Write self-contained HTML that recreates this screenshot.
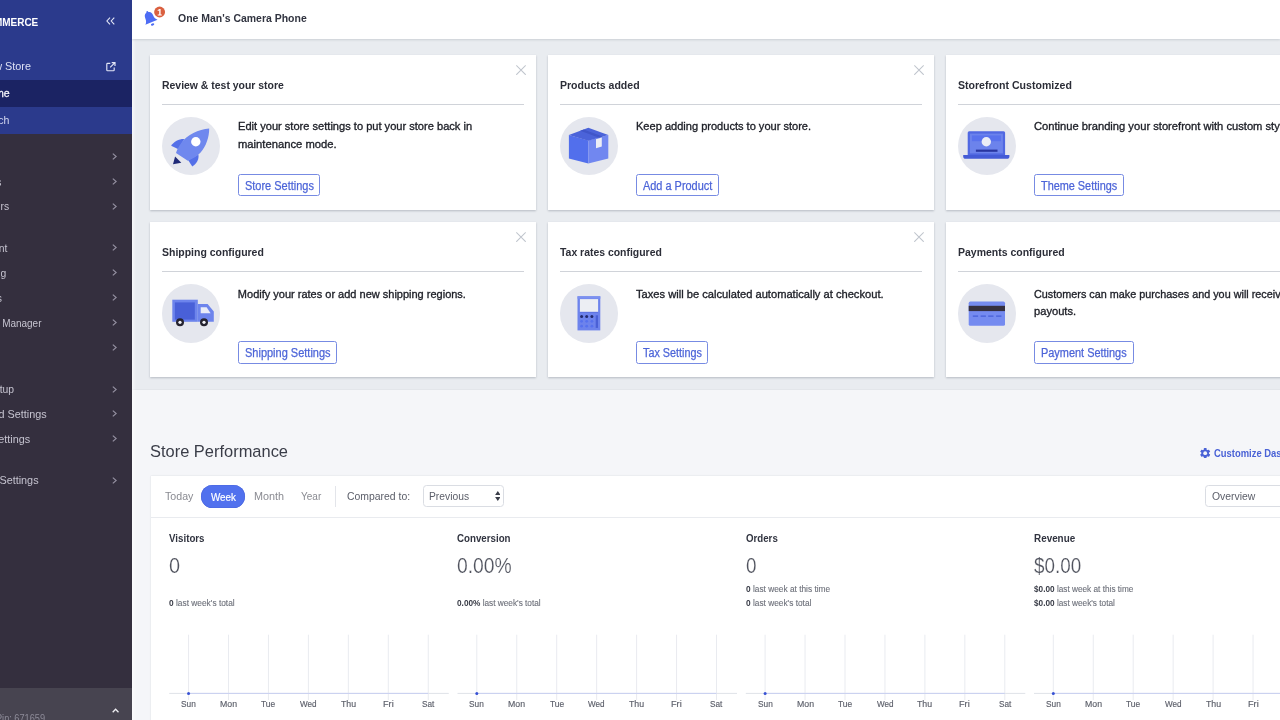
<!DOCTYPE html>
<html>
<head>
<meta charset="utf-8">
<title>Dashboard</title>
<style>
*{box-sizing:border-box;margin:0;padding:0}
html,body{width:1280px;height:720px;overflow:hidden}
body{font-family:"Liberation Sans",sans-serif;background:#e9ecf0;position:relative;color:#313440}
.abs{position:absolute}
.t{position:absolute;white-space:nowrap;line-height:1.2}
.t b{color:#3a3d48;-webkit-text-stroke:0}
#side{position:absolute;left:0;top:0;width:132.400px;height:720px;background:#342f3e;overflow:hidden}
#side .top{position:absolute;left:0;top:0;width:100%;height:134px;background:#2b3a8c}
#side .home{position:absolute;left:0;top:79.800px;width:100%;height:27.200px;background:#1b2363}
#side .foot{position:absolute;left:0;top:688.400px;width:100%;height:32px;background:#474450}
#hdr{position:absolute;left:132.200px;top:0;width:1148px;height:39px;background:#fff;box-shadow:0 1px 2px rgba(50,60,80,.16)}
.card{position:absolute;width:386px;height:155.300px;background:#fff;box-shadow:0 1px 2px rgba(40,50,70,.26)}
.card .hr{position:absolute;left:11.600px;top:48.900px;width:362.600px;height:1.500px;background:#d0d3d9}
.card .ic{position:absolute;left:11.800px;top:62.400px;width:58.400px;height:58.400px;border-radius:50%;background:#e5e7ee}
.card .ic svg{position:absolute;left:0;top:0}
.card .btn{position:absolute;left:88.100px;top:119.600px;height:22.200px;border:1.200px solid #778be3;border-radius:2.500px;background:#fff}
.card .x{position:absolute;left:366.200px;top:10.200px;width:10px;height:10.200px}
#lower{position:absolute;left:132.200px;top:388.900px;width:1148px;height:331px;background:#f5f6f9;border-top:1px solid #e3e6ea}
#panel{position:absolute;left:150.500px;top:476.400px;width:1140px;height:250px;background:#fff;box-shadow:0 0 1.500px rgba(40,50,70,.16)}
#panel .bar{position:absolute;left:0;top:0;width:100%;height:41.600px;border-bottom:1px solid #e9ebef}
.pill{position:absolute;left:200.900px;top:485.200px;width:44.200px;height:23.300px;border-radius:12px;background:#5171ee;box-shadow:inset 0 0 0 .6px #4a66de}
.sel{position:absolute;top:485.300px;height:21.600px;border:1px solid #dadde3;border-radius:3.500px;background:#fff}
</style>
</head>
<body>
<div id="lower"></div>
<div class="abs" style="left:132.400px;top:39px;width:4px;height:681px;background:linear-gradient(to right,rgba(255,255,255,.6),rgba(255,255,255,0))"></div>
<div id="side"><div class="top"></div><div class="home"></div><div class="foot"></div>
<svg class="abs" style="left:105.500px;top:17px" width="9.200" height="8" viewBox="0 0 9.200 8"><path d="M4 .6 .9 4 4 7.400M8.300 .6 5.200 4 8.300 7.400" fill="none" stroke="#e3e6f6" stroke-width="1.100"/></svg>
<svg class="abs" style="left:106px;top:62px" width="9.600" height="9.600" viewBox="0 0 9.600 9.600"><path d="M4.300 1.400H1.600a.8 .8 0 0 0-.8 .8V8a.8 .8 0 0 0 .8 .8H7.400a.8 .8 0 0 0 .8-.8V5.400" fill="none" stroke="#e3e6f6" stroke-width="1.150"/><path d="M5.700 .6H9V3.900M8.900 .7 4.200 5.400" fill="none" stroke="#e3e6f6" stroke-width="1.150"/></svg>
<svg class="abs" style="left:112.400px;top:153px" width="5" height="7" viewBox="0 0 5 7"><path d="M.8 .6 4.200 3.500 .8 6.400" fill="none" stroke="#9591a2" stroke-width="1.200"/></svg><svg class="abs" style="left:112.400px;top:178.1px" width="5" height="7" viewBox="0 0 5 7"><path d="M.8 .6 4.200 3.500 .8 6.400" fill="none" stroke="#9591a2" stroke-width="1.200"/></svg><svg class="abs" style="left:112.400px;top:202.9px" width="5" height="7" viewBox="0 0 5 7"><path d="M.8 .6 4.200 3.500 .8 6.400" fill="none" stroke="#9591a2" stroke-width="1.200"/></svg><svg class="abs" style="left:112.400px;top:244px" width="5" height="7" viewBox="0 0 5 7"><path d="M.8 .6 4.200 3.500 .8 6.400" fill="none" stroke="#9591a2" stroke-width="1.200"/></svg><svg class="abs" style="left:112.400px;top:269.1px" width="5" height="7" viewBox="0 0 5 7"><path d="M.8 .6 4.200 3.500 .8 6.400" fill="none" stroke="#9591a2" stroke-width="1.200"/></svg><svg class="abs" style="left:112.400px;top:294.1px" width="5" height="7" viewBox="0 0 5 7"><path d="M.8 .6 4.200 3.500 .8 6.400" fill="none" stroke="#9591a2" stroke-width="1.200"/></svg><svg class="abs" style="left:112.400px;top:319px" width="5" height="7" viewBox="0 0 5 7"><path d="M.8 .6 4.200 3.500 .8 6.400" fill="none" stroke="#9591a2" stroke-width="1.200"/></svg><svg class="abs" style="left:112.400px;top:343.9px" width="5" height="7" viewBox="0 0 5 7"><path d="M.8 .6 4.200 3.500 .8 6.400" fill="none" stroke="#9591a2" stroke-width="1.200"/></svg><svg class="abs" style="left:112.400px;top:385.5px" width="5" height="7" viewBox="0 0 5 7"><path d="M.8 .6 4.200 3.500 .8 6.400" fill="none" stroke="#9591a2" stroke-width="1.200"/></svg><svg class="abs" style="left:112.400px;top:410.4px" width="5" height="7" viewBox="0 0 5 7"><path d="M.8 .6 4.200 3.500 .8 6.400" fill="none" stroke="#9591a2" stroke-width="1.200"/></svg><svg class="abs" style="left:112.400px;top:435.3px" width="5" height="7" viewBox="0 0 5 7"><path d="M.8 .6 4.200 3.500 .8 6.400" fill="none" stroke="#9591a2" stroke-width="1.200"/></svg><svg class="abs" style="left:112.400px;top:476.7px" width="5" height="7" viewBox="0 0 5 7"><path d="M.8 .6 4.200 3.500 .8 6.400" fill="none" stroke="#9591a2" stroke-width="1.200"/></svg>
<svg class="abs" style="left:112px;top:707.600px" width="7.200" height="5" viewBox="0 0 7.200 5"><path d="M.7 4.300 3.600 1.200 6.500 4.300" fill="none" stroke="#eeeef2" stroke-width="1.300"/></svg>
</div>
<div id="hdr">
<svg class="abs" style="left:9px;top:4px" width="30" height="26" viewBox="141.300 4 30 26">
<g transform="translate(149.600 17) rotate(-22.400)" fill="#4d6cf4"><circle cx="0" cy="-5.300" r="1.050"/><path d="M-1-4.900C-3.400-4.600-4.200-2.400-4.200-.2C-4.200 2.600-5 4.200-6.600 5.650L6.600 5.650C5 4.200 4.200 2.600 4.200-.2C4.200-2.400 3.400-4.600 1-4.900Z"/><ellipse cx=".2" cy="8.100" rx="1.750" ry="1.100"/></g>
<circle cx="159.900" cy="12" r="5.450" fill="#da6040"/>
<path d="M158 10l1.800-1.100h1.100v5.500h1.200v1.100h-4.100v-1.100h1.500v-4l-1.500 .6z" fill="#fff"/>
</svg>
</div>
<div class="card" style="left:150px;top:54.7px"><svg class="x" viewBox="0 0 10 10"><path d="M.3 .3 9.700 9.700M9.700 .3 .3 9.700" stroke="#c0c5cd" stroke-width="1.050" fill="none"/></svg><div class="hr"></div><div class="ic"><svg viewBox="0 0 58.5 58.5" width="58.5" height="58.5"><path d="M22.300 22.100C17 21.900 12 24.600 9.100 28.800L16.500 32.200Z" fill="#5470e8"/>
<path d="M36.400 37.600C37.200 42 35 46.700 30.300 49.400L26.200 43.200Z" fill="#5470e8"/>
<path d="M47.200 11.600C36.500 12.300 25 18.300 19.600 25.500C16.600 29.500 14.800 33 14 36.100L25.800 43.700C30 42.200 35 39.200 38.600 35.500C44.200 29.500 47.200 20 47.200 11.600Z" fill="#6f88ee"/>
<circle cx="33.800" cy="24.800" r="4.700" fill="#fff"/>
<path d="M13.100 39.600L11 47.300L19.300 45.800Z" fill="#1f2a78"/></svg></div><div class="btn" style="width:82px"></div></div><div class="card" style="left:548px;top:54.7px"><svg class="x" viewBox="0 0 10 10"><path d="M.3 .3 9.700 9.700M9.700 .3 .3 9.700" stroke="#c0c5cd" stroke-width="1.050" fill="none"/></svg><div class="hr"></div><div class="ic"><svg viewBox="0 0 58.5 58.5" width="58.5" height="58.5"><g transform="translate(-.6 0)"><path d="M9.500 18L28.900 23.600V46.600L9.500 41.400Z" fill="#526fec"/>
<path d="M48.900 18L28.900 23.600V46.600L48.900 41.400Z" fill="#7187f0"/>
<path d="M28.900 10.800L48.900 18L28.900 23.800L9.500 18Z" fill="#4b63d9"/>
<path d="M20.800 13.700L24.400 12.400L43.200 19.600L39.800 20.700Z" fill="#4056c9"/>
<path d="M36.600 22.200L42.400 20.500V29.500L36.600 31.200Z" fill="#eceef5"/></g></svg></div><div class="btn" style="width:83px"></div></div><div class="card" style="left:946px;top:54.7px"><div class="hr"></div><div class="ic"><svg viewBox="0 0 58.5 58.5" width="58.5" height="58.5"><g transform="translate(-.7 0)"><path d="M10.400 15.700a1.500 1.500 0 0 1 1.500-1.500h34.400a1.500 1.500 0 0 1 1.500 1.500V38.200H10.400Z" fill="#5068e2"/>
<rect x="12.600" y="16.600" width="33" height="19.800" fill="#6c83ec"/>
<rect x="14.600" y="18.400" width="29" height="5.800" fill="#5972ed"/>
<circle cx="29" cy="24.800" r="4.700" fill="#eceef6"/>
<rect x="18.600" y="32.600" width="21.600" height="2.200" fill="#2835a0"/>
<path d="M5.900 38H52.100V39.200a2.600 2.600 0 0 1-2.600 2.600H8.500a2.600 2.600 0 0 1-2.600-2.600Z" fill="#445bd6"/></g></svg></div><div class="btn" style="width:90px"></div></div><div class="card" style="left:150px;top:221.8px"><svg class="x" viewBox="0 0 10 10"><path d="M.3 .3 9.700 9.700M9.700 .3 .3 9.700" stroke="#c0c5cd" stroke-width="1.050" fill="none"/></svg><div class="hr"></div><div class="ic"><svg viewBox="0 0 58.5 58.5" width="58.5" height="58.5"><rect x="10.300" y="15.700" width="25.500" height="22.100" fill="#6d84ec"/>
<rect x="12.900" y="18.400" width="19.900" height="17.200" fill="#4960d8"/>
<path d="M35.800 20.100H45.600L51.800 27.400V37.800H35.800Z" fill="#6d84ec"/>
<path d="M38.700 23.300H44.600L48.600 29.200H38.700Z" fill="#e9ecf8"/>
<circle cx="18" cy="38.300" r="4" fill="#25232f"/><circle cx="18" cy="38.300" r="1.600" fill="#f2f3f8"/>
<circle cx="42" cy="38.300" r="4" fill="#25232f"/><circle cx="42" cy="38.300" r="1.600" fill="#f2f3f8"/></svg></div><div class="btn" style="width:98.7px"></div></div><div class="card" style="left:548px;top:221.8px"><svg class="x" viewBox="0 0 10 10"><path d="M.3 .3 9.700 9.700M9.700 .3 .3 9.700" stroke="#c0c5cd" stroke-width="1.050" fill="none"/></svg><div class="hr"></div><div class="ic"><svg viewBox="0 0 58.5 58.5" width="58.5" height="58.5"><rect x="17.500" y="12.300" width="22.800" height="34.100" fill="#6d83ec"/>
<rect x="17.500" y="12.300" width="22.800" height="2.400" fill="#7c91f0"/>
<rect x="19.900" y="15.100" width="18.200" height="12.800" fill="#eceef3"/>
<rect x="19.900" y="27.900" width="18.200" height=".8" fill="#5a70de"/>
<circle cx="21.600" cy="32.600" r="1.500" fill="#222a6e"/><circle cx="26.700" cy="32.600" r="1.500" fill="#222a6e"/><circle cx="31.900" cy="32.600" r="1.500" fill="#222a6e"/>
<g fill="#5671ee"><circle cx="21.600" cy="37.300" r="1.400"/><circle cx="26.700" cy="37.300" r="1.400"/><circle cx="31.900" cy="37.300" r="1.400"/>
<circle cx="21.600" cy="42.200" r="1.400"/><circle cx="26.700" cy="42.200" r="1.400"/><circle cx="31.900" cy="42.200" r="1.400"/></g>
<rect x="35.700" y="31.300" width="2.300" height="12.600" fill="#4a60d6"/></svg></div><div class="btn" style="width:72.3px"></div></div><div class="card" style="left:946px;top:221.8px"><div class="hr"></div><div class="ic"><svg viewBox="0 0 58.5 58.5" width="58.5" height="58.5"><rect x="10.700" y="17.600" width="36.300" height="24.200" rx="1.600" fill="#758bf0"/>
<rect x="10.700" y="21.800" width="36.300" height="5.300" fill="#35303f"/>
<g fill="#4f66dc"><rect x="14.800" y="31.400" width="5.300" height="1.500"/><rect x="22.600" y="31.400" width="5.300" height="1.500"/><rect x="30.200" y="31.400" width="5.300" height="1.500"/><rect x="38.100" y="31.400" width="5.300" height="1.500"/></g></svg></div><div class="btn" style="width:99.5px"></div></div>
<svg class="abs" style="left:1200.300px;top:447.800px" width="10.400" height="10.400" viewBox="-5.200 -5.200 10.400 10.400"><g fill="#4a62d6"><rect x="-1.350" y="-5.100" width="2.700" height="10.200" rx=".5" transform="rotate(0)"/><rect x="-1.350" y="-5.100" width="2.700" height="10.200" rx=".5" transform="rotate(60)"/><rect x="-1.350" y="-5.100" width="2.700" height="10.200" rx=".5" transform="rotate(120)"/><circle r="3.800"/></g><circle r="1.900" fill="#f5f6f9"/></svg>
<div id="panel"><div class="bar"></div></div>
<div class="pill"></div>
<div class="abs" style="left:335.200px;top:486px;width:1px;height:21px;background:#e3e5ea"></div>
<div class="sel" style="left:423px;width:80.800px"></div>
<svg class="abs" style="left:494.600px;top:491.200px" width="5.600" height="10" viewBox="0 0 5.600 10"><path d="M2.800 0 5.500 4H.1ZM2.800 10 5.500 6H.1Z" fill="#3a3d48"/></svg>
<div class="sel" style="left:1205.100px;width:100px"></div>
<svg class="abs" style="left:0;top:620px" width="1280" height="100" viewBox="0 620 1280 100"><path d="M169.25 693.400H448.75" stroke="#dfe2e8" stroke-width="1"/><path d="M188.55 634.700V700" stroke="#e9ebf0" stroke-width="1"/><path d="M228.50 634.700V700" stroke="#e9ebf0" stroke-width="1"/><path d="M268.45 634.700V700" stroke="#e9ebf0" stroke-width="1"/><path d="M308.40 634.700V700" stroke="#e9ebf0" stroke-width="1"/><path d="M348.35 634.700V700" stroke="#e9ebf0" stroke-width="1"/><path d="M388.30 634.700V700" stroke="#e9ebf0" stroke-width="1"/><path d="M428.25 634.700V700" stroke="#e9ebf0" stroke-width="1"/><path d="M188.55 693.400H428.25" stroke="#c9cff1" stroke-width="1"/><circle cx="188.55" cy="693.400" r="1.500" fill="#3852d4"/><path d="M457.5 693.400H737" stroke="#dfe2e8" stroke-width="1"/><path d="M476.80 634.700V700" stroke="#e9ebf0" stroke-width="1"/><path d="M516.75 634.700V700" stroke="#e9ebf0" stroke-width="1"/><path d="M556.70 634.700V700" stroke="#e9ebf0" stroke-width="1"/><path d="M596.65 634.700V700" stroke="#e9ebf0" stroke-width="1"/><path d="M636.60 634.700V700" stroke="#e9ebf0" stroke-width="1"/><path d="M676.55 634.700V700" stroke="#e9ebf0" stroke-width="1"/><path d="M716.50 634.700V700" stroke="#e9ebf0" stroke-width="1"/><path d="M476.80 693.400H716.50" stroke="#c9cff1" stroke-width="1"/><circle cx="476.80" cy="693.400" r="1.500" fill="#3852d4"/><path d="M745.8 693.400H1025.3" stroke="#dfe2e8" stroke-width="1"/><path d="M765.10 634.700V700" stroke="#e9ebf0" stroke-width="1"/><path d="M805.05 634.700V700" stroke="#e9ebf0" stroke-width="1"/><path d="M845.00 634.700V700" stroke="#e9ebf0" stroke-width="1"/><path d="M884.95 634.700V700" stroke="#e9ebf0" stroke-width="1"/><path d="M924.90 634.700V700" stroke="#e9ebf0" stroke-width="1"/><path d="M964.85 634.700V700" stroke="#e9ebf0" stroke-width="1"/><path d="M1004.80 634.700V700" stroke="#e9ebf0" stroke-width="1"/><path d="M765.10 693.400H1004.80" stroke="#c9cff1" stroke-width="1"/><circle cx="765.10" cy="693.400" r="1.500" fill="#3852d4"/><path d="M1034 693.400H1313.5" stroke="#dfe2e8" stroke-width="1"/><path d="M1053.30 634.700V700" stroke="#e9ebf0" stroke-width="1"/><path d="M1093.25 634.700V700" stroke="#e9ebf0" stroke-width="1"/><path d="M1133.20 634.700V700" stroke="#e9ebf0" stroke-width="1"/><path d="M1173.15 634.700V700" stroke="#e9ebf0" stroke-width="1"/><path d="M1213.10 634.700V700" stroke="#e9ebf0" stroke-width="1"/><path d="M1253.05 634.700V700" stroke="#e9ebf0" stroke-width="1"/><path d="M1293.00 634.700V700" stroke="#e9ebf0" stroke-width="1"/><path d="M1053.30 693.400H1293.00" stroke="#c9cff1" stroke-width="1"/><circle cx="1053.30" cy="693.400" r="1.500" fill="#3852d4"/></svg>
<div id="tx" style="position:absolute;left:0;top:0;width:1280px;height:720px;will-change:transform">
<div class="t" style="right:1242.20px;top:16.50px;font-size:10.4px;color:#ffffff;transform:scaleX(0.9600);transform-origin:100% 0;font-weight:bold;">BIGCOMMERCE</div>
<div class="t" style="right:1248.67px;top:60.00px;font-size:11px;color:#dde0f4;transform:scaleX(0.9850);transform-origin:100% 0;">View Store</div>
<div class="t" style="right:1270.58px;top:86.50px;font-size:11.5px;color:#f4f4fa;transform:scaleX(0.9200);transform-origin:100% 0;-webkit-text-stroke:0.3px #f4f4fa;">Home</div>
<div class="t" style="right:1270.28px;top:113.75px;font-size:11.5px;color:#d3d7f0;transform:scaleX(0.9200);transform-origin:100% 0;">Search</div>
<div class="t" style="right:1278.34px;top:175.60px;font-size:11px;color:#c6c4d0;transform:scaleX(0.9400);transform-origin:100% 0;">Products</div>
<div class="t" style="right:1270.84px;top:200.40px;font-size:11px;color:#c6c4d0;transform:scaleX(0.9400);transform-origin:100% 0;">Customers</div>
<div class="t" style="right:1272.69px;top:241.50px;font-size:11px;color:#c6c4d0;transform:scaleX(0.9400);transform-origin:100% 0;">Storefront</div>
<div class="t" style="right:1274.19px;top:266.60px;font-size:11px;color:#c6c4d0;transform:scaleX(0.9400);transform-origin:100% 0;">Marketing</div>
<div class="t" style="right:1278.19px;top:291.60px;font-size:11px;color:#c6c4d0;transform:scaleX(0.9400);transform-origin:100% 0;">Analytics</div>
<div class="t" style="right:1238.10px;top:316.50px;font-size:11px;color:#c6c4d0;transform:scaleX(0.9050);transform-origin:100% 0;">Channel Manager</div>
<div class="t" style="right:1266.09px;top:383.00px;font-size:11px;color:#c6c4d0;transform:scaleX(0.9400);transform-origin:100% 0;">Store Setup</div>
<div class="t" style="right:1233.57px;top:407.90px;font-size:11px;color:#c6c4d0;transform:scaleX(0.9850);transform-origin:100% 0;">Advanced Settings</div>
<div class="t" style="right:1249.57px;top:432.80px;font-size:11px;color:#c6c4d0;transform:scaleX(0.9850);transform-origin:100% 0;">Server Settings</div>
<div class="t" style="right:1241.27px;top:474.20px;font-size:11px;color:#c6c4d0;transform:scaleX(0.9850);transform-origin:100% 0;">Account Settings</div>
<div class="t" style="right:1234.63px;top:712.50px;font-size:10px;color:#8d8b98;transform:scaleX(0.9200);transform-origin:100% 0;">Store Pin: 671659</div>
<div class="t" style="left:177.68px;top:11.60px;font-size:11.2px;color:#313440;transform:scaleX(0.9357);transform-origin:0 0;font-weight:bold;">One Man's Camera Phone</div>
<div class="t" style="left:161.58px;top:79.30px;font-size:10.9px;color:#2c2e38;transform:scaleX(0.9585);transform-origin:0 0;font-weight:bold;">Review &amp; test your store</div>
<div class="t" style="left:237.86px;top:120.40px;font-size:11.0px;color:#1d1f27;transform:scaleX(1.0075);transform-origin:0 0;-webkit-text-stroke:0.33px #1d1f27;">Edit your store settings to put your store back in</div>
<div class="t" style="left:237.85px;top:137.90px;font-size:11.0px;color:#1d1f27;transform:scaleX(1.0204);transform-origin:0 0;-webkit-text-stroke:0.33px #1d1f27;">maintenance mode.</div>
<div class="t" style="left:244.56px;top:178.90px;font-size:12px;color:#4c64d8;transform:scaleX(0.9138);transform-origin:0 0;-webkit-text-stroke:0.25px #4c64d8;">Store Settings</div>
<div class="t" style="left:559.58px;top:79.30px;font-size:10.9px;color:#2c2e38;transform:scaleX(0.9671);transform-origin:0 0;font-weight:bold;">Products added</div>
<div class="t" style="left:635.86px;top:120.40px;font-size:11.0px;color:#1d1f27;transform:scaleX(1.0046);transform-origin:0 0;-webkit-text-stroke:0.33px #1d1f27;">Keep adding products to your store.</div>
<div class="t" style="left:642.56px;top:178.90px;font-size:12px;color:#4c64d8;transform:scaleX(0.9108);transform-origin:0 0;-webkit-text-stroke:0.25px #4c64d8;">Add a Product</div>
<div class="t" style="left:957.58px;top:79.30px;font-size:10.9px;color:#2c2e38;transform:scaleX(0.9698);transform-origin:0 0;font-weight:bold;">Storefront Customized</div>
<div class="t" style="left:1033.85px;top:120.40px;font-size:11.0px;color:#1d1f27;transform:scaleX(1.0152);transform-origin:0 0;-webkit-text-stroke:0.33px #1d1f27;">Continue branding your storefront with custom styles</div>
<div class="t" style="left:1040.56px;top:178.90px;font-size:12px;color:#4c64d8;transform:scaleX(0.9063);transform-origin:0 0;-webkit-text-stroke:0.25px #4c64d8;">Theme Settings</div>
<div class="t" style="left:161.58px;top:246.30px;font-size:10.9px;color:#2c2e38;transform:scaleX(0.9619);transform-origin:0 0;font-weight:bold;">Shipping configured</div>
<div class="t" style="left:237.86px;top:287.80px;font-size:11.0px;color:#1d1f27;transform:scaleX(1.0000);transform-origin:0 0;-webkit-text-stroke:0.33px #1d1f27;">Modify your rates or add new shipping regions.</div>
<div class="t" style="left:244.56px;top:345.90px;font-size:12px;color:#4c64d8;transform:scaleX(0.9162);transform-origin:0 0;-webkit-text-stroke:0.25px #4c64d8;">Shipping Settings</div>
<div class="t" style="left:559.58px;top:246.30px;font-size:10.9px;color:#2c2e38;transform:scaleX(0.9579);transform-origin:0 0;font-weight:bold;">Tax rates configured</div>
<div class="t" style="left:635.85px;top:287.80px;font-size:11.0px;color:#1d1f27;transform:scaleX(1.0123);transform-origin:0 0;-webkit-text-stroke:0.33px #1d1f27;">Taxes will be calculated automatically at checkout.</div>
<div class="t" style="left:642.57px;top:345.90px;font-size:12px;color:#4c64d8;transform:scaleX(0.9004);transform-origin:0 0;-webkit-text-stroke:0.25px #4c64d8;">Tax Settings</div>
<div class="t" style="left:957.58px;top:246.30px;font-size:10.9px;color:#2c2e38;transform:scaleX(0.9629);transform-origin:0 0;font-weight:bold;">Payments configured</div>
<div class="t" style="left:1033.87px;top:287.80px;font-size:11.0px;color:#1d1f27;transform:scaleX(0.9836);transform-origin:0 0;-webkit-text-stroke:0.33px #1d1f27;">Customers can make purchases and you will receive</div>
<div class="t" style="left:1033.85px;top:305.30px;font-size:11.0px;color:#1d1f27;transform:scaleX(1.0119);transform-origin:0 0;-webkit-text-stroke:0.33px #1d1f27;">payouts.</div>
<div class="t" style="left:1040.56px;top:345.90px;font-size:12px;color:#4c64d8;transform:scaleX(0.9108);transform-origin:0 0;-webkit-text-stroke:0.25px #4c64d8;">Payment Settings</div>
<div class="t" style="left:149.84px;top:441.70px;font-size:16.8px;color:#3a3d48;transform:scaleX(0.9799);transform-origin:0 0;">Store Performance</div>
<div class="t" style="left:1213.92px;top:447.00px;font-size:11.2px;color:#4a62d6;transform:scaleX(0.8421);transform-origin:0 0;font-weight:bold;">Customize Dashboard</div>
<div class="t" style="left:164.57px;top:490.40px;font-size:11.2px;color:#8a8b92;transform:scaleX(0.9495);transform-origin:0 0;">Today</div>
<div class="t" style="left:210.61px;top:491.20px;font-size:11.2px;color:#ffffff;transform:scaleX(0.8797);transform-origin:0 0;-webkit-text-stroke:0.2px #fff;">Week</div>
<div class="t" style="left:254.27px;top:490.40px;font-size:11.2px;color:#8a8b92;transform:scaleX(0.9670);transform-origin:0 0;">Month</div>
<div class="t" style="left:301.10px;top:490.40px;font-size:11.2px;color:#8a8b92;transform:scaleX(0.8981);transform-origin:0 0;">Year</div>
<div class="t" style="left:346.58px;top:490.40px;font-size:11.2px;color:#5b5e69;transform:scaleX(0.9314);transform-origin:0 0;">Compared to:</div>
<div class="t" style="left:429.39px;top:490.40px;font-size:11.2px;color:#5b5e69;transform:scaleX(0.9194);transform-origin:0 0;">Previous</div>
<div class="t" style="left:1212.08px;top:490.40px;font-size:11.2px;color:#5b5e69;transform:scaleX(0.9294);transform-origin:0 0;">Overview</div>
<div class="t" style="left:168.61px;top:532.00px;font-size:11.2px;color:#313440;transform:scaleX(0.8699);transform-origin:0 0;font-weight:bold;">Visitors</div>
<div class="t" style="left:457.11px;top:532.00px;font-size:11.2px;color:#313440;transform:scaleX(0.8697);transform-origin:0 0;font-weight:bold;">Conversion</div>
<div class="t" style="left:745.61px;top:532.00px;font-size:11.2px;color:#313440;transform:scaleX(0.8661);transform-origin:0 0;font-weight:bold;">Orders</div>
<div class="t" style="left:1033.90px;top:532.00px;font-size:11.2px;color:#313440;transform:scaleX(0.8832);transform-origin:0 0;font-weight:bold;">Revenue</div>
<div class="t" style="left:168.70px;top:553.20px;font-size:21.2px;color:#50535e;transform:scaleX(0.9405);transform-origin:0 0;-webkit-text-stroke:0.2px #fff;">0</div>
<div class="t" style="left:457.23px;top:553.20px;font-size:21.2px;color:#50535e;transform:scaleX(0.9121);transform-origin:0 0;-webkit-text-stroke:0.2px #fff;">0.00%</div>
<div class="t" style="left:745.74px;top:553.20px;font-size:21.2px;color:#50535e;transform:scaleX(0.8910);transform-origin:0 0;-webkit-text-stroke:0.2px #fff;">0</div>
<div class="t" style="left:1034.05px;top:553.20px;font-size:21.2px;color:#50535e;transform:scaleX(0.8902);transform-origin:0 0;-webkit-text-stroke:0.2px #fff;">$0.00</div>
<div class="t" style="left:168.67px;top:598.25px;font-size:8.6px;color:#6d707a;transform:scaleX(0.9720);transform-origin:0 0;-webkit-text-stroke:0.12px #6d707a;"><b>0</b> last week's total</div>
<div class="t" style="left:457.17px;top:598.25px;font-size:8.6px;color:#6d707a;transform:scaleX(0.9599);transform-origin:0 0;-webkit-text-stroke:0.12px #6d707a;"><b>0.00%</b> last week's total</div>
<div class="t" style="left:745.67px;top:584.25px;font-size:8.6px;color:#6d707a;transform:scaleX(0.9681);transform-origin:0 0;-webkit-text-stroke:0.12px #6d707a;"><b>0</b> last week at this time</div>
<div class="t" style="left:745.67px;top:598.25px;font-size:8.6px;color:#6d707a;transform:scaleX(0.9682);transform-origin:0 0;-webkit-text-stroke:0.12px #6d707a;"><b>0</b> last week's total</div>
<div class="t" style="left:1033.97px;top:584.25px;font-size:8.6px;color:#6d707a;transform:scaleX(0.9584);transform-origin:0 0;-webkit-text-stroke:0.12px #6d707a;"><b>$0.00</b> last week at this time</div>
<div class="t" style="left:1033.97px;top:598.25px;font-size:8.6px;color:#6d707a;transform:scaleX(0.9592);transform-origin:0 0;-webkit-text-stroke:0.12px #6d707a;"><b>$0.00</b> last week's total</div>
<div class="t" style="left:181.17px;top:699.00px;font-size:8.5px;color:#5b5e69;transform:scaleX(0.9761);transform-origin:0 0;-webkit-text-stroke:0.15px #5b5e69;">Sun</div>
<div class="t" style="left:220.00px;top:699.00px;font-size:8.5px;color:#5b5e69;transform:scaleX(1.0273);transform-origin:0 0;-webkit-text-stroke:0.15px #5b5e69;">Mon</div>
<div class="t" style="left:261.36px;top:699.00px;font-size:8.5px;color:#5b5e69;transform:scaleX(0.9880);transform-origin:0 0;-webkit-text-stroke:0.15px #5b5e69;">Tue</div>
<div class="t" style="left:300.13px;top:699.00px;font-size:8.5px;color:#5b5e69;transform:scaleX(0.9551);transform-origin:0 0;-webkit-text-stroke:0.15px #5b5e69;">Wed</div>
<div class="t" style="left:340.80px;top:699.00px;font-size:8.5px;color:#5b5e69;transform:scaleX(1.0303);transform-origin:0 0;-webkit-text-stroke:0.15px #5b5e69;">Thu</div>
<div class="t" style="left:382.93px;top:699.00px;font-size:8.5px;color:#5b5e69;transform:scaleX(1.0820);transform-origin:0 0;-webkit-text-stroke:0.15px #5b5e69;">Fri</div>
<div class="t" style="left:422.12px;top:699.00px;font-size:8.5px;color:#5b5e69;transform:scaleX(0.9598);transform-origin:0 0;-webkit-text-stroke:0.15px #5b5e69;">Sat</div>
<div class="t" style="left:469.42px;top:699.00px;font-size:8.5px;color:#5b5e69;transform:scaleX(0.9761);transform-origin:0 0;-webkit-text-stroke:0.15px #5b5e69;">Sun</div>
<div class="t" style="left:508.25px;top:699.00px;font-size:8.5px;color:#5b5e69;transform:scaleX(1.0273);transform-origin:0 0;-webkit-text-stroke:0.15px #5b5e69;">Mon</div>
<div class="t" style="left:549.61px;top:699.00px;font-size:8.5px;color:#5b5e69;transform:scaleX(0.9880);transform-origin:0 0;-webkit-text-stroke:0.15px #5b5e69;">Tue</div>
<div class="t" style="left:588.38px;top:699.00px;font-size:8.5px;color:#5b5e69;transform:scaleX(0.9551);transform-origin:0 0;-webkit-text-stroke:0.15px #5b5e69;">Wed</div>
<div class="t" style="left:629.05px;top:699.00px;font-size:8.5px;color:#5b5e69;transform:scaleX(1.0303);transform-origin:0 0;-webkit-text-stroke:0.15px #5b5e69;">Thu</div>
<div class="t" style="left:671.18px;top:699.00px;font-size:8.5px;color:#5b5e69;transform:scaleX(1.0820);transform-origin:0 0;-webkit-text-stroke:0.15px #5b5e69;">Fri</div>
<div class="t" style="left:710.37px;top:699.00px;font-size:8.5px;color:#5b5e69;transform:scaleX(0.9598);transform-origin:0 0;-webkit-text-stroke:0.15px #5b5e69;">Sat</div>
<div class="t" style="left:757.72px;top:699.00px;font-size:8.5px;color:#5b5e69;transform:scaleX(0.9761);transform-origin:0 0;-webkit-text-stroke:0.15px #5b5e69;">Sun</div>
<div class="t" style="left:796.55px;top:699.00px;font-size:8.5px;color:#5b5e69;transform:scaleX(1.0273);transform-origin:0 0;-webkit-text-stroke:0.15px #5b5e69;">Mon</div>
<div class="t" style="left:837.91px;top:699.00px;font-size:8.5px;color:#5b5e69;transform:scaleX(0.9880);transform-origin:0 0;-webkit-text-stroke:0.15px #5b5e69;">Tue</div>
<div class="t" style="left:876.68px;top:699.00px;font-size:8.5px;color:#5b5e69;transform:scaleX(0.9551);transform-origin:0 0;-webkit-text-stroke:0.15px #5b5e69;">Wed</div>
<div class="t" style="left:917.35px;top:699.00px;font-size:8.5px;color:#5b5e69;transform:scaleX(1.0303);transform-origin:0 0;-webkit-text-stroke:0.15px #5b5e69;">Thu</div>
<div class="t" style="left:959.48px;top:699.00px;font-size:8.5px;color:#5b5e69;transform:scaleX(1.0820);transform-origin:0 0;-webkit-text-stroke:0.15px #5b5e69;">Fri</div>
<div class="t" style="left:998.67px;top:699.00px;font-size:8.5px;color:#5b5e69;transform:scaleX(0.9598);transform-origin:0 0;-webkit-text-stroke:0.15px #5b5e69;">Sat</div>
<div class="t" style="left:1045.92px;top:699.00px;font-size:8.5px;color:#5b5e69;transform:scaleX(0.9761);transform-origin:0 0;-webkit-text-stroke:0.15px #5b5e69;">Sun</div>
<div class="t" style="left:1084.75px;top:699.00px;font-size:8.5px;color:#5b5e69;transform:scaleX(1.0273);transform-origin:0 0;-webkit-text-stroke:0.15px #5b5e69;">Mon</div>
<div class="t" style="left:1126.11px;top:699.00px;font-size:8.5px;color:#5b5e69;transform:scaleX(0.9880);transform-origin:0 0;-webkit-text-stroke:0.15px #5b5e69;">Tue</div>
<div class="t" style="left:1164.88px;top:699.00px;font-size:8.5px;color:#5b5e69;transform:scaleX(0.9551);transform-origin:0 0;-webkit-text-stroke:0.15px #5b5e69;">Wed</div>
<div class="t" style="left:1205.55px;top:699.00px;font-size:8.5px;color:#5b5e69;transform:scaleX(1.0303);transform-origin:0 0;-webkit-text-stroke:0.15px #5b5e69;">Thu</div>
<div class="t" style="left:1247.68px;top:699.00px;font-size:8.5px;color:#5b5e69;transform:scaleX(1.0820);transform-origin:0 0;-webkit-text-stroke:0.15px #5b5e69;">Fri</div>
<div class="t" style="left:1286.87px;top:699.00px;font-size:8.5px;color:#5b5e69;transform:scaleX(0.9598);transform-origin:0 0;-webkit-text-stroke:0.15px #5b5e69;">Sat</div>
</div>
</body>
</html>
